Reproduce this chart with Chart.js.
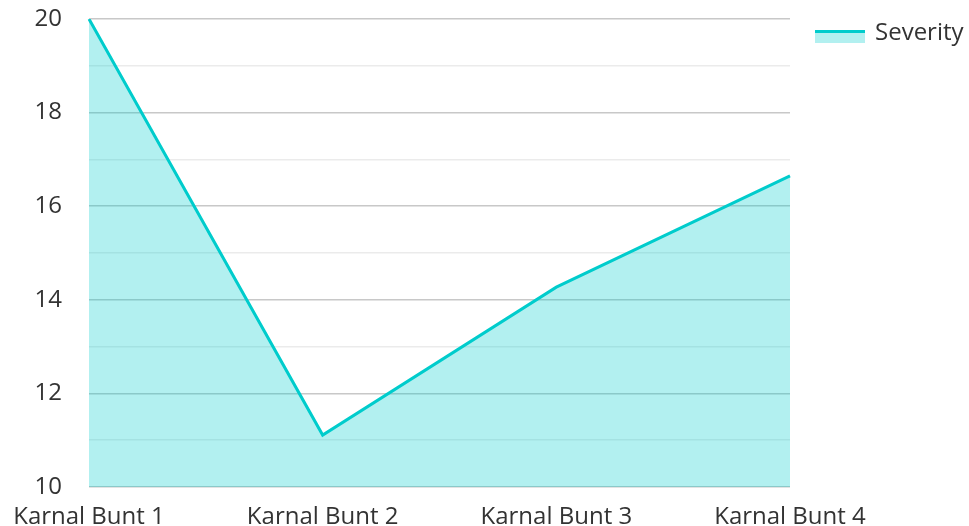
<!DOCTYPE html>
<html>
<head>
<meta charset="utf-8">
<script src="https://cdn.jsdelivr.net/npm/chart.js@4"></script>
<style>
html,body{margin:0;padding:0;background:#fff;}
#wrap{width:969px;height:526px;position:relative;}
</style>
</head>
<body>
<div id="wrap"><canvas id="c"></canvas></div>
<script>
const categories = ["Karnal Bunt 1", "Karnal Bunt 2", "Karnal Bunt 3", "Karnal Bunt 4"];
const severity = [20, 11.11, 14.27, 16.65];
const seriesName = "Severity";
const yMin = 10, yMax = 20, yStep = 1;

const lineColor = "#00cccc";
const fillColor = "rgba(0,204,204,0.3)";
const textColor = "#333333";
const fontFamily = "'Open Sans'";

const legendPlugin = {
  id: 'customLegend',
  afterDraw(chart) {
    const ctx = chart.ctx;
    const x = chart.chartArea.right + 25, y = 30;
    ctx.save();
    ctx.fillStyle = fillColor;
    ctx.fillRect(x, y, 50, 13);
    ctx.fillStyle = lineColor;
    ctx.fillRect(x, y, 50, 3);
    ctx.fillStyle = textColor;
    ctx.font = "24px " + fontFamily;
    ctx.textBaseline = 'middle';
    ctx.textAlign = 'left';
    ctx.fillText(seriesName, x + 60, y + 3);
    ctx.restore();
  }
};

new Chart(document.getElementById('c'), {
  type: 'line',
  data: {
    labels: categories,
    datasets: [{
      label: seriesName,
      data: severity,
      borderColor: lineColor,
      backgroundColor: fillColor,
      borderWidth: 3,
      fill: 'origin',
      pointRadius: 0,
      tension: 0
    }]
  },
  options: {
    responsive: true,
    maintainAspectRatio: false,
    animation: false,
    layout: { padding: { top: 19, right: 179, left: 0, bottom: 0 } },
    plugins: {
      tooltip: { enabled: false },
      legend: { display: false }
    },
    scales: {
      x: {
        offset: false,
        grid: { display: false },
        border: { display: false },
        afterFit: s => { s.height = 39; s.paddingLeft = 0; s.paddingRight = 0; },
        ticks: {
          autoSkip: false,
          maxRotation: 0,
          color: textColor,
          font: { family: fontFamily, size: 24 },
          padding: 8
        }
      },
      y: {
        min: yMin,
        max: yMax,
        border: { display: false },
        afterFit: s => { s.width = 89; s.paddingTop = 0; s.paddingBottom = 0; },
        grid: {
          drawTicks: false,
          color: ctx => (ctx.tick && ctx.tick.value % 2 === 0) ? '#c8c8c8' : '#ebebeb',
          lineWidth: 1.5
        },
        ticks: {
          stepSize: yStep,
          padding: 27,
          color: textColor,
          font: { family: fontFamily, size: 24 },
          callback: v => (v % 2 === 0 ? String(v) : '')
        }
      }
    }
  },
  plugins: [legendPlugin]
});
</script>
</body>
</html>
